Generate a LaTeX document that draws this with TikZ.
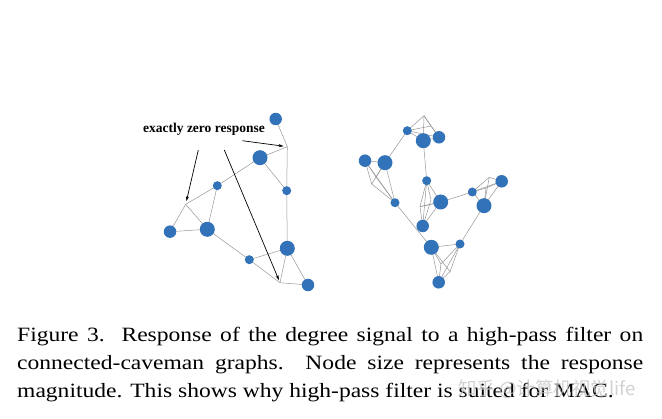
\documentclass[tikz,border=0pt]{standalone}
\usepackage{fontspec}
\setmainfont{Liberation Serif}
\newfontfamily\cjkfont{Noto Sans CJK SC}
\usetikzlibrary{arrows.meta}
\pgfdeclarelayer{bg}
\pgfsetlayers{bg,main}
\definecolor{nodeblue}{RGB}{50,114,184}
\definecolor{edgegray}{RGB}{150,150,150}
\tikzset{
  vtx/.style={circle,fill=nodeblue,inner sep=0pt,draw=none},
  vbig/.style={vtx,minimum size=15pt},
  vmid/.style={vtx,minimum size=12.5pt},
  vsml/.style={vtx,minimum size=9pt},
  zerov/.style={inner sep=0pt,minimum size=0pt},
  edgeline/.style={draw=edgegray,line width=0.5pt},
  pointer/.style={draw=black,line width=0.7pt,-{Stealth[length=5pt,width=3pt]}},
}
\begin{document}
\begin{tikzpicture}[x=1pt,y=-1pt]
\useasboundingbox (0,0) rectangle (662,419);
% ---------- left graph ----------
\node[vmid] (ltop) at (275.7,119) {};
\node[zerov]  (lz1)  at (287.3,146.7) {};
\node[vbig] (lb1)  at (260,157.7) {};
\node[vsml] (lr1)  at (286.7,190.7) {};
\node[vsml] (lm1)  at (217.3,185.7) {};
\node[zerov]  (lz2)  at (185.7,204.3) {};
\node[vmid] (ll1)  at (170,231.7) {};
\node[vbig] (lb2)  at (207.3,229.3) {};
\node[vsml] (lm2)  at (249.3,259.7) {};
\node[vbig] (lb3)  at (287.3,248.3) {};
\node[zerov]  (lz3)  at (280,282.7) {};
\node[vmid] (lr2)  at (308,285) {};
\begin{pgfonlayer}{bg}
\foreach \a/\b in {ltop/lz1,lz1/lb1,lz1/lr1,lb1/lr1,lb1/lm1,lm1/lz2,lm1/lb2,
  lz2/ll1,lz2/lb2,ll1/lb2,lb2/lm2,lm2/lb3,lm2/lz3,lr1/lb3,lb3/lz3,lb3/lr2,lz3/lr2}
  \draw[edgeline] (\a.center) -- (\b.center);
\end{pgfonlayer}
% label and arrows
\node[font=\bfseries\fontsize{13.5}{15}\selectfont,anchor=base] (lab) at (204,132.3) {exactly zero response};
\coordinate (s1) at (198.3,150);
\coordinate (s2) at (242.3,140.7);
\coordinate (s3) at (224.3,150);
\draw[pointer,shorten >=3pt] (s1) -- (lz2);
\draw[pointer,shorten >=3.5pt] (s2) -- (lz1);
\draw[pointer,shorten >=2.5pt] (s3) -- (lz3);
% ---------- right graph ----------
% cave 1
\node[vsml] (A) at (407.3,130.7) {};
\node[vbig] (B) at (423.3,140.7) {};
\node[vmid] (C) at (439,137.3) {};
\node[zerov] (h1) at (424,115.7) {};
\node[zerov] (h1b) at (431,126) {};
% cave 2
\node[vmid] (D) at (365,160.7) {};
\node[vbig] (E) at (385,162.7) {};
\node[vsml] (G) at (395,202.7) {};
\node[zerov] (P) at (371.7,184) {};
\node[zerov] (P2) at (376,177) {};
% cave 3
\node[vsml] (F) at (426.7,180.7) {};
\node[vbig] (H) at (440.7,202) {};
\node[vmid] (L) at (422.7,226) {};
\node[zerov] (R) at (420,206.7) {};
\node[zerov] (R2) at (431,200) {};
% cave 4
\node[vsml] (I) at (472.3,192) {};
\node[vmid] (J) at (501.7,181.3) {};
\node[vbig] (K) at (484,205.7) {};
\node[zerov] (T) at (489.3,177.3) {};
\node[zerov] (T2) at (486,188) {};
% cave 5
\node[vbig] (M) at (431.3,247.3) {};
\node[vsml] (N) at (460,244) {};
\node[vmid] (O) at (438.7,282.3) {};
\node[zerov] (U) at (450,271.7) {};
\node[zerov] (U2) at (441,264) {};
\begin{pgfonlayer}{bg}
\foreach \a/\b in {h1/A,h1/B,h1/C,A/B,A/C,B/C,h1b/A,h1b/C,h1b/h1,
  D/E,D/P,D/G,D/P2,E/P,E/G,E/P2,P/G,P2/G,
  F/H,F/R,F/L,F/R2,H/R,H/L,R/L,R2/L,R/H,
  I/T,I/J,I/K,T/J,T/K,J/K,T2/I,T2/J,T2/K,
  M/N,M/O,M/U,M/U2,N/O,N/U,N/U2,O/U,O/U2,
  A/E,B/F,G/M,H/I,K/N}
  \draw[edgeline] (\a.center) -- (\b.center);
\end{pgfonlayer}
% ---------- caption ----------
\begin{scope}[every node/.style={anchor=base west,inner sep=0pt,font=\fontsize{20.3}{28}\selectfont}]
\node (c1) at (17,341.7) {\scalebox{1.16}[1]{\makebox[539.7pt][s]{Figure 3.\ \ Response of the degree signal to a high-pass filter on}}};
\node (c2) at (17,370) {\scalebox{1.16}[1]{\makebox[539.7pt][s]{connected-caveman graphs.\ \ Node size represents the response}}};
\node (c3) at (17,398) {\scalebox{1.16}[1]{magnitude. This shows why high-pass filter is suited for MAC.}};
\end{scope}
\node[anchor=base west,inner sep=0pt,text=gray!45,opacity=0.8,font=\cjkfont\fontsize{18.5}{20}\selectfont] (wm) at (458,396) {知乎 @计算机视觉life};
\end{tikzpicture}
\end{document}
